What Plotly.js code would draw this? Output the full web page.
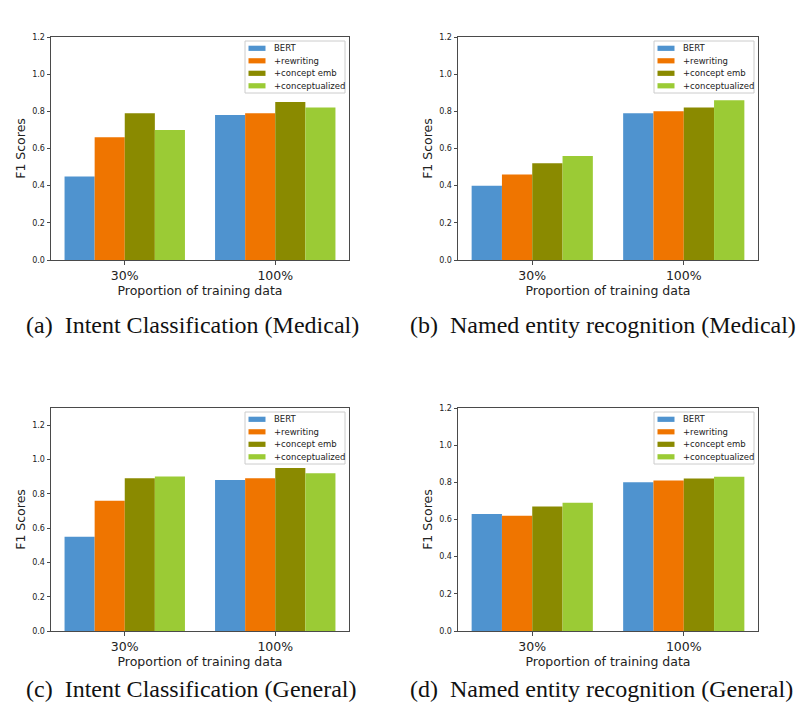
<!DOCTYPE html>
<html><head><meta charset="utf-8">
<script src="https://cdn.plot.ly/plotly-3.0.1.min.js"></script>
<style>html,body{margin:0;padding:0;background:#fff}#chart{width:801px;height:707px}</style>
</head><body><div id="chart"></div>
<script>
// ---- data ----
const categories = ['30%', '100%'];
const seriesNames = ['BERT', '+rewriting', '+concept emb', '+conceptualized'];
// values per series (in seriesNames order), each = [30%, 100%]
const intentMedical = [[0.45, 0.78], [0.66, 0.79], [0.79, 0.85], [0.70, 0.82]];
const nerMedical    = [[0.40, 0.79], [0.46, 0.80], [0.52, 0.82], [0.56, 0.86]];
const intentGeneral = [[0.55, 0.88], [0.76, 0.89], [0.89, 0.95], [0.90, 0.92]];
const nerGeneral    = [[0.63, 0.80], [0.62, 0.81], [0.67, 0.82], [0.69, 0.83]];
const panelCaptions = [
  '(a)  Intent Classification (Medical)',
  '(b)  Named entity recognition (Medical)',
  '(c)  Intent Classification (General)',
  '(d)  Named entity recognition (General)'
];
const xTitle = 'Proportion of training data';
const yTitle = 'F1 Scores';

// ---- style / layout ----
const seriesColors = ['#4f93cf', '#ef7500', '#8a8a00', '#9bcb35'];
const W = 801, H = 707;
const px = x => x / W;
const py = y => 1 - y / H;
const panelData = [intentMedical, nerMedical, intentGeneral, nerGeneral];
const yMax = [1.2, 1.2, 1.3, 1.2];
const boxes = [
  {l: 51, r: 349, t: 37, b: 260, capX: 24, capY: 325},
  {l: 458, r: 758, t: 37, b: 260, capX: 408, capY: 325},
  {l: 51, r: 349, t: 408, b: 631, capX: 24, capY: 689},
  {l: 458, r: 758, t: 408, b: 631, capX: 408, capY: 689}
];
const axisColor = '#4a4a4a';
const textColor = '#222';
const sans = 'DejaVu Sans, sans-serif';

const traces = [];
const layout = {
  width: W, height: H,
  margin: {l: 0, r: 0, t: 0, b: 0},
  paper_bgcolor: '#fff', plot_bgcolor: '#fff',
  barmode: 'group', bargap: 0.2, bargroupgap: 0,
  showlegend: false,
  shapes: [], annotations: []
};

panelData.forEach((vals, p) => {
  const n = p + 1;
  const sfx = n === 1 ? '' : String(n);
  const bx = boxes[p];
  vals.forEach((v, s) => {
    traces.push({
      type: 'bar', x: categories, y: v, name: seriesNames[s],
      xaxis: 'x' + sfx, yaxis: 'y' + sfx,
      marker: {color: seriesColors[s], line: {width: 0}},
      hoverinfo: 'skip'
    });
  });
  layout['xaxis' + sfx] = {
    domain: [px(bx.l), px(bx.r)], anchor: 'y' + sfx,
    type: 'category', range: [-0.49, 1.49],
    showline: true, mirror: true, linecolor: axisColor, linewidth: 1,
    ticks: 'outside', ticklen: 3.5, tickcolor: axisColor, tickwidth: 1,
    tickfont: {family: sans, size: 12.5, color: textColor},
    showgrid: false, zeroline: false, fixedrange: true,
    title: {text: xTitle, font: {family: sans, size: 12.5, color: textColor}, standoff: 0}
  };
  layout['yaxis' + sfx] = {
    domain: [py(bx.b), py(bx.t)], anchor: 'x' + sfx,
    range: [0, yMax[p]], tick0: 0, dtick: 0.2, tickformat: '.1f',
    showline: true, mirror: true, linecolor: axisColor, linewidth: 1,
    ticks: 'outside', ticklen: 3.5, tickcolor: axisColor, tickwidth: 1,
    tickfont: {family: sans, size: 8, color: textColor},
    showgrid: false, zeroline: false, fixedrange: true,
    title: {text: yTitle, font: {family: sans, size: 12.5, color: textColor}, standoff: 3}
  };

  // legend box (matplotlib style) built from series names/colors
  const lr = bx.r - 4, ll = lr - 100, lt = bx.t + 4, lb = lt + 52;
  layout.shapes.push({
    type: 'rect', xref: 'paper', yref: 'paper',
    x0: px(ll), x1: px(lr), y0: py(lb), y1: py(lt),
    line: {color: '#cccccc', width: 1}, fillcolor: 'rgba(255,255,255,0.8)', layer: 'above'
  });
  seriesNames.forEach((nm, s) => {
    const cy = lt + 7.3 + s * 12.5;
    layout.shapes.push({
      type: 'rect', xref: 'paper', yref: 'paper',
      x0: px(ll + 3.5), x1: px(ll + 20.5), y0: py(cy + 2.6), y1: py(cy - 2.6),
      line: {width: 0}, fillcolor: seriesColors[s], layer: 'above'
    });
    layout.annotations.push({
      xref: 'paper', yref: 'paper', x: px(ll + 26.5), y: py(cy),
      xanchor: 'left', yanchor: 'middle', showarrow: false, text: nm,
      font: {family: sans, size: 8.5, color: textColor}
    });
  });

  layout.annotations.push({
    xref: 'paper', yref: 'paper', x: px(bx.capX), y: py(bx.capY),
    xanchor: 'left', yanchor: 'middle', showarrow: false,
    text: panelCaptions[p].replace('  ', '&nbsp; '),
    font: {family: 'Liberation Serif, serif', size: 24, color: '#111'}
  });
});

Plotly.newPlot('chart', traces, layout, {displayModeBar: false, staticPlot: true});
</script>
</body></html>
